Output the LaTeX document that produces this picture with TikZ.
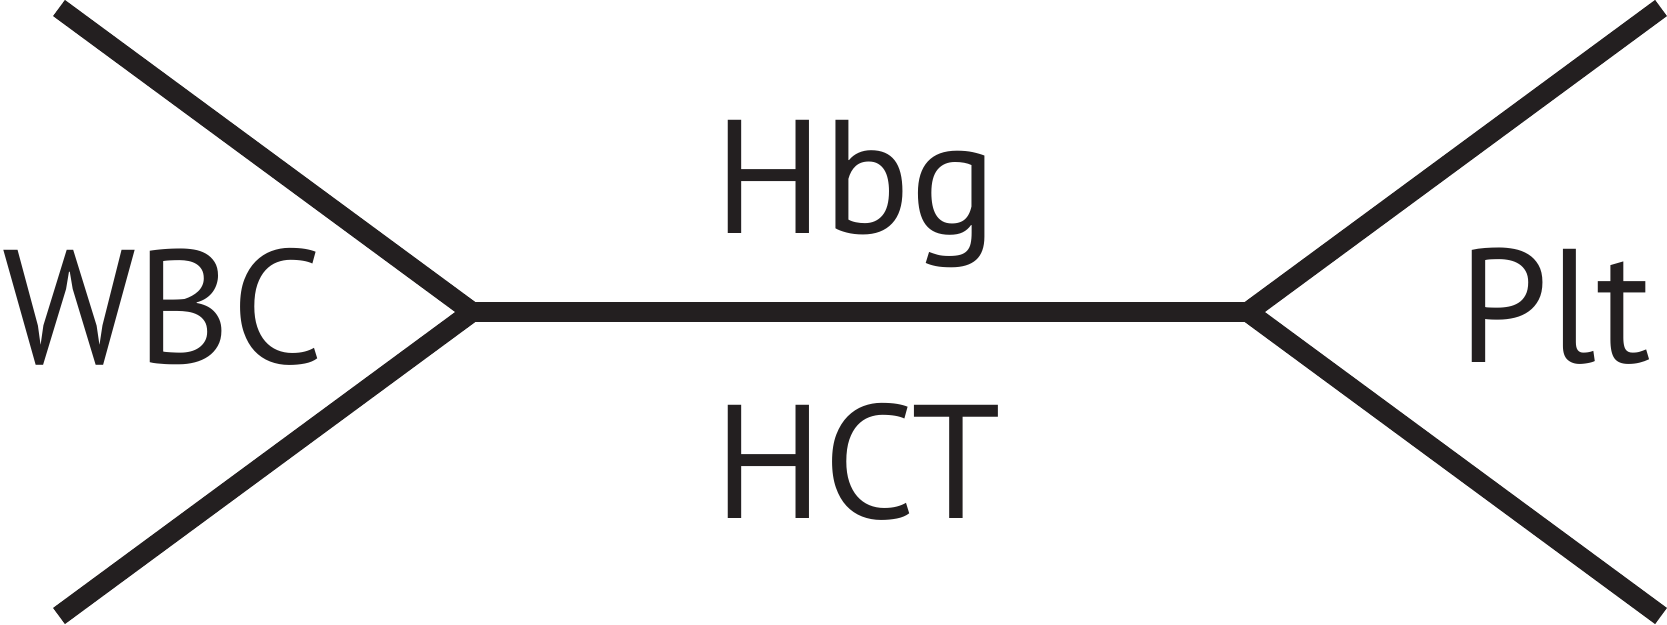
\documentclass[tikz,border=0pt]{standalone}
\usepackage{fontspec}
\setmainfont{PT Sans}
\usetikzlibrary{calc,positioning}
\definecolor{ink}{HTML}{231F20}

\begin{document}
\begin{tikzpicture}[x=0.01cm,y=-0.01cm,
  bone/.style={ink,line width=0.2cm,line join=miter},
  lab/.style={ink,anchor=base,inner sep=0pt,font=\fontsize{46}{50}\selectfont}]
\useasboundingbox (0,0) rectangle (1667,624);
% joints and free ends
\coordinate (L)  at (472,312);
\coordinate (R)  at (1248,312);
\coordinate (TL) at (59,8);
\coordinate (BL) at (59,616);
\coordinate (TR) at (1661,8);
\coordinate (BR) at (1661,616);
\draw[bone] (TL)--(L)--(BL);
\draw[bone] (TR)--(R)--(BR);
\draw[bone] (L)--(R);
\node[lab] (wbc) at (163,363) {WBC};
\node[lab] (hbg) at (856,233) {Hbg};
\node[lab] (hct) at (858,518) {HCT};
\node[lab] (plt) at (1555,362) {Plt};
\end{tikzpicture}
\end{document}
